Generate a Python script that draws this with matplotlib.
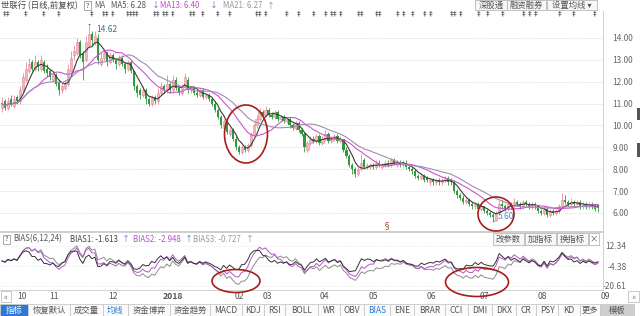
import matplotlib
matplotlib.use("Agg")
import matplotlib.pyplot as plt
import numpy as np
import pandas as pd
from matplotlib.patches import Ellipse, Rectangle

plt.rcParams["font.family"] = ["Noto Sans CJK SC", "DejaVu Sans"]

# daily candles (about one bar per 3 px)
closes = [
    11.0, 10.8, 11.1, 11.0, 11.2, 11.1, 11.6, 12.2, 12.6, 12.8,
    12.6, 12.9, 12.7, 13.0, 12.5, 12.4, 12.2, 12.3, 11.9, 11.6,
    11.8, 11.9, 12.6, 13.1, 13.4, 13.8, 13.2, 12.9, 13.8, 14.2,
    13.9, 14.1, 13.0, 13.1, 13.3, 12.9, 13.2, 13.0, 12.8, 13.1,
    12.8, 12.6, 12.9, 12.5, 11.8, 11.5, 11.4, 11.6, 11.2, 11.0,
    11.3, 11.1, 11.5, 11.8, 11.6, 11.9, 11.6, 12.1, 11.7, 11.5,
    11.8, 12.2, 11.6, 11.7, 11.5, 11.4, 11.6, 11.3, 11.4, 11.2,
    11.0, 10.7, 10.4, 10.0, 10.2, 9.7, 9.8, 9.4, 9.0, 8.8,
    9.0, 8.9, 9.1, 9.6, 10.0, 10.3, 10.6, 10.5, 10.7, 10.5,
    10.4, 10.6, 10.3, 10.4, 10.2, 10.3, 10.0, 9.9, 10.1, 9.8,
    9.6, 9.0, 9.2, 9.4, 9.3, 9.5, 9.2, 9.4, 9.6, 9.3,
    9.4, 9.5, 9.3, 9.4, 8.9, 8.6, 8.2, 8.0, 7.8, 8.0,
    8.3, 8.1, 8.2, 8.2, 8.1, 8.3, 8.2, 8.2, 8.3, 8.2,
    8.4, 8.3, 8.3, 8.2, 8.3, 8.1, 8.0, 7.9, 7.7, 7.6,
    7.7, 7.5, 7.5, 7.5, 7.4, 7.5, 7.4, 7.5, 7.6, 7.4,
    7.4, 7.0, 6.8, 6.7, 6.5, 6.6, 6.4, 6.3, 6.4, 6.2,
    6.3, 6.1, 6.0, 5.9, 5.8, 6.0, 6.4, 6.3, 6.2, 6.4,
    6.3, 6.5, 6.4, 6.3, 6.5, 6.4, 6.3, 6.4, 6.3, 6.1,
    6.0, 6.2, 5.9, 6.1, 6.0, 6.1, 6.3, 6.6, 6.5, 6.4,
    6.5, 6.4, 6.5, 6.3, 6.4, 6.3, 6.4, 6.3, 6.2, 6.25,
]
opens = [
    10.8, 11.1, 10.8, 11.2, 10.9, 11.3, 11.1, 11.6, 12.1, 12.5,
    12.9, 12.6, 12.9, 12.6, 12.9, 12.6, 12.5, 12.1, 12.3, 12.0,
    11.6, 11.7, 11.9, 12.5, 13.2, 13.3, 13.8, 13.3, 13.0, 13.7,
    14.2, 13.8, 14.0, 12.8, 13.1, 13.3, 12.9, 13.2, 13.0, 12.8,
    13.1, 12.8, 12.6, 12.9, 12.5, 11.8, 11.6, 11.4, 11.6, 11.2,
    11.0, 11.3, 11.1, 11.5, 11.8, 11.6, 11.9, 11.6, 12.1, 11.7,
    11.5, 11.8, 12.1, 11.6, 11.7, 11.5, 11.4, 11.6, 11.3, 11.4,
    11.2, 11.0, 10.7, 10.4, 9.9, 10.2, 9.6, 9.8, 9.4, 9.0,
    8.8, 9.0, 8.9, 9.1, 9.6, 10.0, 10.3, 10.6, 10.5, 10.7,
    10.5, 10.4, 10.6, 10.3, 10.4, 10.2, 10.3, 10.0, 9.9, 10.1,
    9.8, 9.6, 8.9, 9.2, 9.4, 9.3, 9.5, 9.2, 9.4, 9.6,
    9.3, 9.4, 9.5, 9.3, 9.4, 8.9, 8.6, 8.2, 8.0, 7.8,
    8.0, 8.4, 8.1, 8.1, 8.2, 8.1, 8.3, 8.1, 8.2, 8.3,
    8.2, 8.4, 8.2, 8.3, 8.2, 8.3, 8.1, 8.0, 7.9, 7.7,
    7.6, 7.7, 7.6, 7.4, 7.5, 7.4, 7.5, 7.4, 7.5, 7.6,
    7.5, 7.4, 7.0, 6.8, 6.7, 6.5, 6.6, 6.4, 6.3, 6.4,
    6.2, 6.3, 6.1, 6.0, 5.9, 5.7, 6.0, 6.4, 6.3, 6.2,
    6.4, 6.3, 6.5, 6.4, 6.3, 6.5, 6.4, 6.3, 6.4, 6.3,
    6.1, 6.0, 6.2, 5.9, 6.1, 6.0, 6.1, 6.3, 6.6, 6.5,
    6.4, 6.5, 6.4, 6.5, 6.3, 6.4, 6.3, 6.4, 6.3, 6.35,
]
highs = [
    11.3, 11.2, 11.3, 11.4, 11.4, 11.4, 11.8, 12.4, 12.9, 13.1,
    13.0, 13.2, 13.0, 13.2, 13.0, 12.8, 12.6, 12.5, 12.4, 12.1,
    12.0, 12.1, 12.8, 13.4, 13.7, 14.0, 13.9, 13.4, 14.1, 14.62,
    14.3, 14.3, 14.2, 13.3, 13.5, 13.4, 13.3, 13.3, 13.1, 13.2,
    13.2, 12.9, 13.0, 13.0, 12.5, 11.9, 11.7, 11.8, 11.7, 11.3,
    11.4, 11.4, 11.7, 12.0, 11.9, 12.3, 12.0, 12.3, 12.2, 11.8,
    11.9, 12.4, 12.2, 11.8, 11.8, 11.6, 11.7, 11.7, 11.5, 11.5,
    11.3, 11.1, 10.8, 10.5, 10.3, 10.3, 9.9, 9.9, 9.5, 9.1,
    9.1, 9.1, 9.2, 9.7, 10.1, 10.5, 10.8, 10.7, 10.9, 10.8,
    10.6, 10.7, 10.7, 10.5, 10.5, 10.4, 10.4, 10.1, 10.2, 10.2,
    9.9, 9.7, 9.3, 9.5, 9.5, 9.6, 9.6, 9.5, 9.8, 9.7,
    9.5, 9.6, 9.6, 9.5, 9.4, 9.0, 8.7, 8.3, 8.1, 8.1,
    8.7, 8.5, 8.3, 8.3, 8.3, 8.4, 8.4, 8.3, 8.4, 8.4,
    8.5, 8.5, 8.4, 8.4, 8.4, 8.4, 8.2, 8.1, 8.0, 7.8,
    7.8, 7.8, 7.7, 7.6, 7.6, 7.6, 7.6, 7.6, 7.7, 7.7,
    7.6, 7.5, 7.1, 6.9, 6.8, 6.7, 6.7, 6.5, 6.5, 6.5,
    6.4, 6.3, 6.2, 6.1, 6.0, 6.1, 6.6, 6.6, 6.4, 6.5,
    6.5, 6.7, 6.6, 6.5, 6.6, 6.6, 6.5, 6.5, 6.5, 6.4,
    6.2, 6.3, 6.3, 6.2, 6.2, 6.2, 6.4, 6.9, 6.8, 6.6,
    6.7, 6.6, 6.6, 6.6, 6.5, 6.5, 6.5, 6.5, 6.4, 6.4,
]
lows = [
    10.6, 10.7, 10.7, 10.9, 10.8, 11.0, 11.0, 11.5, 12.0, 12.4,
    12.5, 12.5, 12.5, 12.5, 12.4, 12.2, 12.1, 12.0, 11.8, 11.4,
    11.5, 11.6, 11.8, 12.4, 13.0, 13.2, 13.1, 12.1, 12.9, 13.6,
    13.7, 13.7, 12.8, 12.7, 13.0, 12.7, 12.8, 12.9, 12.6, 12.7,
    12.7, 12.4, 12.5, 12.4, 11.6, 11.3, 11.2, 11.3, 11.0, 10.9,
    10.9, 11.0, 11.0, 11.4, 11.5, 11.5, 11.5, 11.5, 11.6, 11.4,
    11.4, 11.7, 11.5, 11.5, 11.4, 11.3, 11.3, 11.2, 11.2, 11.1,
    10.9, 10.6, 10.3, 9.9, 9.8, 9.6, 9.5, 9.3, 8.9, 8.7,
    8.7, 8.8, 8.8, 9.0, 9.5, 9.9, 10.2, 10.4, 10.4, 10.4,
    10.3, 10.3, 10.2, 10.2, 10.1, 10.1, 9.9, 9.8, 9.8, 9.7,
    9.5, 8.8, 8.8, 9.1, 9.2, 9.2, 9.1, 9.1, 9.3, 9.2,
    9.2, 9.3, 9.2, 9.2, 8.8, 8.5, 8.1, 7.8, 7.65, 7.7,
    7.9, 8.0, 8.0, 8.0, 8.0, 8.0, 8.1, 8.0, 8.1, 8.1,
    8.1, 8.2, 8.1, 8.1, 8.1, 8.0, 7.9, 7.8, 7.6, 7.5,
    7.5, 7.4, 7.4, 7.3, 7.3, 7.3, 7.3, 7.3, 7.4, 7.3,
    7.3, 6.9, 6.7, 6.6, 6.4, 6.4, 6.3, 6.2, 6.2, 6.1,
    6.1, 6.0, 5.9, 5.8, 5.6, 5.65, 5.9, 6.2, 6.1, 6.1,
    6.2, 6.2, 6.3, 6.2, 6.2, 6.3, 6.2, 6.2, 6.2, 6.0,
    5.9, 5.9, 5.8, 5.8, 5.9, 5.9, 6.0, 6.2, 6.4, 6.3,
    6.3, 6.3, 6.3, 6.2, 6.2, 6.2, 6.2, 6.2, 6.1, 6.05,
]

ma_windows = [5, 13, 21]
bias_windows = [6, 12, 24]
price_ticks = [6, 7, 8, 9, 10, 11, 12, 13, 14]
bias_ticks = [12.34, -4.38, -20.61]
month_labels = ["10", "11", "12", "2018", "02", "03", "04", "05", "06", "07", "08", "09"]
month_pos = [6.7, 17.4, 37.1, 57.1, 79.1, 88.5, 107.5, 123.9, 143.2, 160.9, 180.3, 201.3]
event_idx = [1, 2, 8, 14, 19, 30, 34, 35, 37, 42, 43, 44, 45, 51, 52, 54, 55, 57, 63, 64,
             67, 72, 76, 85, 86, 88, 95, 99, 104, 108, 110, 111, 113, 119, 120, 125, 126,
             132, 134, 137, 141, 143, 150, 151, 153, 159, 162, 167, 174, 176, 178, 186,
             191, 198]
high_mark = (29, 14.62)
low_mark = (164, 5.60)

UP_FACE = "#f3b6c0"
UP_EDGE = "#e38a9a"
DOWN = "#2f9a3a"
MA_COLORS = ["#3a3a3a", "#cc55cc", "#a08cb0"]
BIAS_COLORS = ["#333333", "#b455c8", "#8c8c8c"]
RING = "#a81c1c"


def button(ax, x0, x1, y0, y1, label, fc="#f7f7f7", ec="#b8b8b8", color="#555555", size=6):
    ax.add_patch(Rectangle((x0, y0), x1 - x0, y1 - y0, fc=fc, ec=ec, lw=0.6))
    ax.text((x0 + x1) / 2, (y0 + y1) / 2 + 0.3, label, ha="center", va="center",
            fontsize=size, color=color)


def main():
    o = np.array(opens)
    c = np.array(closes)
    h = np.array(highs)
    lo = np.array(lows)
    idx = np.arange(len(c))
    close = pd.Series(c)

    fig = plt.figure(figsize=(6.4, 3.16), dpi=100, facecolor="white")

    # ---- price panel (y 11..231 px)
    ax = fig.add_axes([0, 1 - 231 / 316, 603 / 640, 220 / 316])
    ax.set_xlim(-0.67, 200.67)
    ax.set_ylim(6 - 18 / 21.875, 6 + 202 / 21.875)

    up = c > o
    dn = ~up
    ax.vlines(idx[up], lo[up], h[up], color=UP_EDGE, lw=0.6, zorder=2)
    ax.vlines(idx[dn], lo[dn], h[dn], color=DOWN, lw=0.6, zorder=2)
    ax.bar(idx[up], (c - o)[up], bottom=o[up], width=0.72, color=UP_FACE,
           edgecolor=UP_EDGE, linewidth=0.4, zorder=3)
    ax.bar(idx[dn], (o - c)[dn], bottom=c[dn], width=0.72, color=DOWN,
           linewidth=0, zorder=3)

    for n, col in zip(ma_windows, MA_COLORS):
        ax.plot(idx, close.rolling(n, min_periods=1).mean(), color=col, lw=0.8, zorder=4)

    ax.annotate(f"{high_mark[1]:.2f}", xy=high_mark, xytext=(5, -3.5), textcoords="offset points",
                fontsize=6, color="#3d6f86", va="center",
                arrowprops=dict(arrowstyle="-", color="#3d6f86", lw=0.6))
    ax.annotate(f"{low_mark[1]:.2f}", xy=low_mark, xytext=(3.5, 4), textcoords="offset points",
                fontsize=6, color="#5a8ab8", va="center",
                arrowprops=dict(arrowstyle="-", color="#5a8ab8", lw=0.6))

    for e in event_idx:
        ax.text(e, 0.991, "‡", transform=ax.get_xaxis_transform(), ha="center", va="center",
                fontsize=5, color="#333333", family="DejaVu Sans", clip_on=False)

    ax.yaxis.tick_right()
    ax.set_yticks(price_ticks)
    ax.set_yticklabels([f"{v:.2f}" for v in price_ticks])
    ax.tick_params(axis="y", length=0, pad=7, labelsize=6, labelcolor="#666666")
    ax.set_xticks([])
    ax.grid(axis="y", color="#cfcfcf", linestyle=(0, (1, 1.5)), lw=0.6)
    ax.set_axisbelow(True)
    for side in ("left", "top"):
        ax.spines[side].set_visible(False)
    for side in ("right", "bottom"):
        ax.spines[side].set_color("#cfcfcf")
        ax.spines[side].set_linewidth(0.7)

    # ---- BIAS panel (y 232..290 px)
    bx = fig.add_axes([0, 1 - 290 / 316, 603 / 640, 58 / 316])
    bx.set_xlim(-0.67, 200.67)
    bx.set_ylim(-23.905, 23.87)
    for n, col in zip(bias_windows[::-1], BIAS_COLORS[::-1]):
        m = close.rolling(n, min_periods=1).mean()
        bx.plot(idx, (close - m) / m * 100, color=col, lw=0.7)
    bx.yaxis.tick_right()
    bx.set_yticks(bias_ticks)
    bx.set_yticklabels([f"{v:.2f}" for v in bias_ticks])
    bx.tick_params(axis="y", length=0, pad=17, labelsize=6, labelcolor="#666666")
    for t in bx.get_yticklabels():
        t.set_ha("right")
    bx.set_xticks([])
    bx.grid(axis="y", color="#e2e2e2", linestyle=(0, (1, 1.5)), lw=0.5)
    bx.spines["left"].set_visible(False)
    for side in ("right", "bottom", "top"):
        bx.spines[side].set_color("#cfcfcf")
        bx.spines[side].set_linewidth(0.7)
    for pos, lab in zip(month_pos, month_labels):
        bx.text(pos, -0.12, lab, transform=bx.get_xaxis_transform(), ha="center", va="center",
                fontsize=6.2, color="#555555", clip_on=False,
                fontweight="bold" if lab == "2018" else "normal")

    # ---- overlay in pixel coordinates: headers, buttons, tabs, red rings
    ui = fig.add_axes([0, 0, 1, 1], zorder=10)
    ui.set_xlim(0, 640)
    ui.set_ylim(316, 0)
    ui.axis("off")
    ui.patch.set_alpha(0)

    fs = 5.7
    ui.text(1, 5.5, "世联行 (日线,前复权)", fontsize=6, color="#444444", va="center")
    button(ui, 84, 91, 1, 10, "?", fc="white", ec="#999999", size=5.5)
    ui.text(94, 5.5, "MA", fontsize=fs, color="#666666", va="center")
    ui.text(111, 5.5, "MA5: 6.28", fontsize=fs, color="#555555", va="center")
    ui.text(152, 5.5, "↓", fontsize=fs, color="#4a6fc0", va="center")
    ui.text(160, 5.5, "MA13: 6.40", fontsize=fs, color="#c848c8", va="center")
    ui.text(210, 5.5, "↓", fontsize=fs, color="#4a6fc0", va="center")
    ui.text(223, 5.5, "MA21: 6.27", fontsize=fs, color="#999999", va="center")
    ui.text(267, 5.5, "↑", fontsize=fs, color="#7a8fb0", va="center")

    button(ui, 475, 507, 0, 10, "深股通")
    button(ui, 507, 546, 0, 10, "融资融券")
    button(ui, 547, 597, 0, 10, "设置均线 ▾")

    ui.add_patch(Rectangle((637, 108), 3, 12, fc="#555555", lw=0))
    ui.add_patch(Rectangle((637, 143), 3, 14, fc="#555555", lw=0))

    button(ui, 3, 10, 234.5, 243.5, "?", fc="white", ec="#999999", size=5.5)
    ui.text(13, 239, "BIAS(6,12,24)", fontsize=fs, color="#555555", va="center")
    ui.text(70, 239, "BIAS1: -1.613", fontsize=fs, color="#444444", va="center")
    ui.text(122, 239, "↑", fontsize=fs, color="#4a6fc0", va="center")
    ui.text(133, 239, "BIAS2: -2.948", fontsize=fs, color="#b455c8", va="center")
    ui.text(185, 239, "↑", fontsize=fs, color="#4a6fc0", va="center")
    ui.text(193, 239, "BIAS3: -0.727", fontsize=fs, color="#999999", va="center")
    ui.text(246, 239, "↑", fontsize=fs, color="#7a8fb0", va="center")

    button(ui, 493, 524, 233, 245, "改参数")
    button(ui, 525, 556, 233, 245, "加指标")
    button(ui, 557, 588, 233, 245, "换指标")
    button(ui, 589, 599, 233, 245, "×", fc="white")

    ui.text(387, 226, "§", fontsize=6, color="#9a3a20", ha="center", va="center")

    button(ui, 1, 11, 291, 302, "«", fc="white", ec="#c0c0c0", color="#777777")
    button(ui, 628, 639, 291, 302, "»", fc="white", ec="#c0c0c0", color="#777777")

    tabs = [("指标", 0, 28), ("恢复默认", 28, 70), ("成交量", 70, 103), ("均线", 103, 128),
            ("资金博弈", 128, 170), ("资金趋势", 170, 210), ("MACD", 210, 242), ("KDJ", 242, 264),
            ("RSI", 264, 285), ("BOLL", 285, 318), ("WR", 318, 340), ("OBV", 340, 364),
            ("BIAS", 364, 390), ("ENE", 390, 414), ("BRAR", 414, 445), ("CCI", 445, 468),
            ("DMI", 468, 492), ("DKX", 492, 516), ("CR", 516, 536), ("PSY", 536, 558),
            ("KD", 558, 580), ("更多", 580, 600), ("模板", 600, 634)]
    for lab, x0, x1 in tabs:
        fc, col = "#fafafa", "#555555"
        if lab == "指标":
            fc, col = "#2b7bd6", "white"
        elif lab in ("均线", "BIAS"):
            col = "#2b7bd6"
        elif lab == "模板":
            fc = "#cfcfcf"
        button(ui, x0, x1, 304, 316, lab, fc=fc, ec="#c8c8c8", color=col, size=6)

    rings = [(246, 134, 43, 58), (496, 214, 36, 34), (236, 281, 48, 23), (477, 282, 63, 29)]
    for cx, cy, w, hh in rings:
        ui.add_patch(Ellipse((cx, cy), w, hh, fill=False, ec=RING, lw=1.2))

    fig.savefig("out.png", dpi=100, facecolor="white")
    plt.close(fig)


if __name__ == "__main__":
    main()
